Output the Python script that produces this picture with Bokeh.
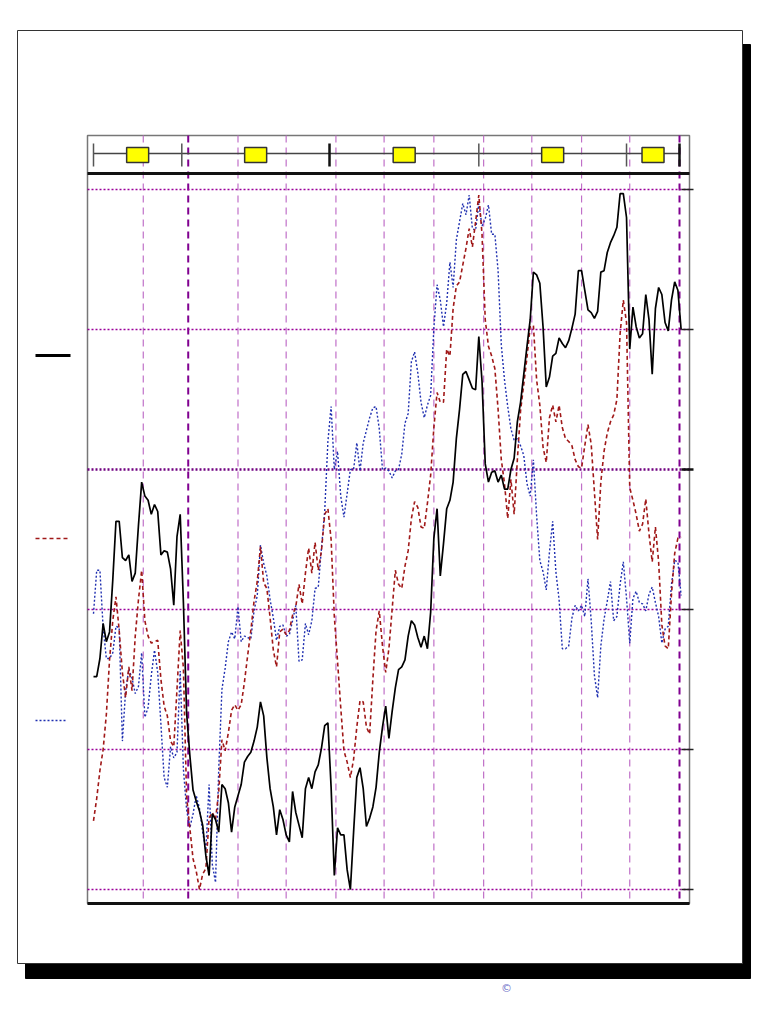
import numpy as np
import pandas as pd
from bokeh.plotting import figure
from bokeh.models import Range1d
from bokeh.embed import file_html
from bokeh.resources import INLINE
from bokeh.core.properties import value

# ---------------- data (one value every 2 days) ----------------
start_date = "2019-01-01"

black_series = [
    1.52, 1.52, 1.65, 1.90, 1.77, 1.84, 2.21, 2.63, 2.63, 2.37,
    2.35, 2.39, 2.20, 2.26, 2.60, 2.91, 2.81, 2.78, 2.68, 2.75,
    2.70, 2.39, 2.42, 2.41, 2.29, 2.03, 2.52, 2.68, 2.05, 1.26,
    0.96, 0.71, 0.63, 0.56, 0.46, 0.24, 0.10, 0.54, 0.50, 0.41,
    0.75, 0.72, 0.62, 0.41, 0.59, 0.67, 0.75, 0.91, 0.95, 0.98,
    1.06, 1.16, 1.34, 1.24, 0.94, 0.72, 0.59, 0.39, 0.57, 0.50,
    0.39, 0.34, 0.70, 0.55, 0.46, 0.37, 0.72, 0.80, 0.72, 0.84,
    0.89, 1.01, 1.17, 1.19, 0.73, 0.10, 0.44, 0.39, 0.39, 0.14,
    0.00, 0.41, 0.80, 0.87, 0.72, 0.45, 0.51, 0.59, 0.73, 0.98,
    1.16, 1.31, 1.08, 1.27, 1.44, 1.57, 1.59, 1.64, 1.81, 1.92,
    1.89, 1.80, 1.73, 1.81, 1.72, 1.98, 2.51, 2.72, 2.24, 2.47,
    2.72, 2.78, 2.91, 3.22, 3.43, 3.68, 3.70, 3.64, 3.58, 3.57,
    3.95, 3.63, 3.04, 2.91, 2.98, 2.99, 2.91, 2.96, 2.86, 2.86,
    3.00, 3.08, 3.34, 3.48, 3.68, 3.88, 4.07, 4.41, 4.39, 4.33,
    4.02, 3.59, 3.66, 3.81, 3.83, 3.94, 3.90, 3.87, 3.92, 4.01,
    4.11, 4.42, 4.42, 4.28, 4.14, 4.12, 4.08, 4.13, 4.41, 4.42,
    4.55, 4.62, 4.67, 4.73, 4.97, 4.97, 4.80, 3.86, 4.16, 4.02,
    3.94, 3.97, 4.25, 4.07, 3.68, 4.15, 4.30, 4.25, 4.05, 3.99,
    4.21, 4.34, 4.28, 4.00,
]

red_series = [
    0.49, 0.65, 0.85, 1.00, 1.25, 1.64, 1.92, 2.09, 1.85, 1.55,
    1.37, 1.59, 1.42, 1.81, 2.07, 2.28, 1.92, 1.81, 1.76, 1.77,
    1.78, 1.50, 1.31, 1.24, 1.06, 1.02, 1.43, 1.85, 1.58, 0.66,
    0.44, 0.22, 0.13, 0.00, 0.11, 0.15, 0.51, 0.55, 0.50, 0.70,
    1.07, 0.99, 1.12, 1.28, 1.32, 1.28, 1.32, 1.48, 1.67, 1.85,
    2.06, 2.20, 2.45, 2.19, 2.15, 1.94, 1.71, 1.59, 1.84, 1.86,
    1.82, 1.85, 1.96, 2.02, 2.18, 2.04, 2.26, 2.44, 2.26, 2.48,
    2.28, 2.42, 2.68, 2.72, 2.50, 1.95, 1.63, 1.30, 0.99, 0.91,
    0.80, 0.93, 1.16, 1.35, 1.34, 1.16, 1.11, 1.50, 1.85, 1.99,
    1.74, 1.55, 1.72, 2.00, 2.28, 2.18, 2.15, 2.31, 2.42, 2.65,
    2.77, 2.73, 2.59, 2.58, 2.76, 2.96, 3.30, 3.55, 3.48, 3.48,
    3.86, 3.81, 4.15, 4.31, 4.34, 4.46, 4.58, 4.72, 4.59, 4.77,
    4.96, 4.68, 4.07, 3.88, 3.81, 3.72, 3.43, 3.07, 2.90, 2.65,
    2.93, 2.68, 3.07, 3.42, 3.61, 3.80, 4.02, 4.03, 3.64, 3.46,
    3.16, 3.05, 3.37, 3.46, 3.34, 3.46, 3.30, 3.22, 3.20, 3.17,
    3.07, 3.02, 3.01, 3.17, 3.32, 3.18, 2.84, 2.50, 2.91, 3.13,
    3.26, 3.34, 3.39, 3.50, 3.97, 4.21, 4.05, 2.87, 2.78, 2.68,
    2.56, 2.61, 2.79, 2.54, 2.34, 2.59, 2.34, 1.89, 1.74, 1.72,
    2.11, 2.40, 2.51, 2.52,
]

blue_series = [
    1.97, 2.28, 2.28, 1.87, 1.65, 1.65, 1.69, 1.88, 1.87, 1.06,
    1.42, 1.57, 1.51, 1.40, 1.45, 1.69, 1.23, 1.30, 1.53, 1.71,
    1.55, 1.18, 0.80, 0.73, 1.02, 0.94, 0.98, 1.56, 0.86, 0.57,
    0.44, 0.54, 0.67, 0.58, 0.41, 0.28, 0.75, 0.18, 0.05, 0.86,
    1.43, 1.58, 1.77, 1.84, 1.79, 2.02, 1.77, 1.81, 1.80, 1.79,
    1.99, 2.10, 2.46, 2.33, 2.24, 2.07, 1.94, 1.78, 1.88, 1.89,
    1.81, 1.82, 1.92, 2.03, 1.63, 1.64, 1.90, 1.82, 1.92, 2.15,
    2.16, 2.44, 2.70, 3.20, 3.45, 3.00, 3.13, 2.81, 2.66, 2.83,
    3.00, 3.00, 3.19, 2.99, 3.19, 3.28, 3.37, 3.44, 3.45, 3.29,
    3.00, 3.01, 2.99, 2.94, 2.99, 3.00, 3.11, 3.33, 3.40, 3.77,
    3.84, 3.69, 3.48, 3.37, 3.46, 3.53, 4.01, 4.32, 4.21, 4.02,
    4.19, 4.48, 4.30, 4.64, 4.77, 4.90, 4.82, 4.96, 4.72, 4.71,
    4.90, 4.74, 4.79, 4.89, 4.68, 4.68, 4.42, 3.89, 3.64, 3.45,
    3.29, 3.21, 3.22, 3.17, 3.10, 2.90, 2.81, 3.07, 2.67, 2.35,
    2.27, 2.14, 2.41, 2.63, 2.27, 2.07, 1.72, 1.72, 1.74, 1.94,
    2.03, 1.99, 2.03, 1.95, 2.22, 1.92, 1.53, 1.37, 1.74, 1.93,
    2.06, 2.20, 1.92, 1.95, 2.18, 2.34, 2.08, 1.76, 2.08, 2.13,
    2.05, 2.04, 1.99, 2.11, 2.16, 2.05, 1.95, 1.76, 1.86, 1.88,
    2.18, 2.35, 2.34, 2.10,
]

grid_levels = [0, 1, 2, 3, 4, 5]
emphasis_level = 3
month_lines = ["2019-02-01", "2019-03-01", "2019-04-01", "2019-05-01", "2019-06-01",
               "2019-07-01", "2019-08-01", "2019-09-01", "2019-10-01", "2019-11-01",
               "2019-12-01", "2020-01-01"]
emphasis_months = ["2019-03-01", "2020-01-01"]
event_dates = ["2019-01-01", "2019-02-25", "2019-05-28", "2019-08-29", "2019-11-29", "2020-01-01"]
major_events = ["2019-05-28", "2020-01-01"]

# ---------------- page geometry (pixels on the page) ----------------
W, H = 752, 1000
ORIGIN = 0
X0_PX, PX_PER_DAY = 93.0, 1.6055      # page x of start_date, pixels per day
Y0_PX, PX_PER_UNIT = 889.0, 140.0     # page y of level 0, pixels per unit
DAY_MS = 86400000.0


def ms(ts):
    return pd.Timestamp(ts).value / 1e6


T0 = ms(start_date)


def px_x(px):
    return T0 + (px - X0_PX) / PX_PER_DAY * DAY_MS


def px_y(py):
    return (Y0_PX - py) / PX_PER_UNIT


FR_L, FR_R, FR_T, FR_B = 87, 689, 135, 903
SEP_Y = 173
TL_Y = 153

p = figure(width=W, height=H,
           x_range=Range1d(px_x(ORIGIN), px_x(ORIGIN + W)),
           y_range=Range1d(px_y(ORIGIN + H), px_y(ORIGIN)),
           output_backend="svg", toolbar_location=None, tools="",
           x_axis_location=None, y_axis_location=None, min_border=0,
           outline_line_color=None, background_fill_color="white",
           border_fill_color="white")
p.grid.visible = False

# page with drop shadow
p.quad(left=[px_x(25)], right=[px_x(750)], top=[px_y(44)], bottom=[px_y(978)],
       fill_color="black", line_color="black")
p.quad(left=[px_x(17)], right=[px_x(742)], top=[px_y(30)], bottom=[px_y(963)],
       fill_color="white", line_color="#333333", line_width=1)

# plot frame
p.quad(left=[px_x(FR_L)], right=[px_x(FR_R)], top=[px_y(FR_T)], bottom=[px_y(FR_B)],
       fill_color="white", line_color="#777777", line_width=1.5)

# vertical month lines
mx = [ms(d) for d in month_lines]
m_norm = [m for d, m in zip(month_lines, mx) if d not in emphasis_months]
m_emph = [m for d, m in zip(month_lines, mx) if d in emphasis_months]
p.segment(x0=m_norm, y0=[px_y(FR_T)] * len(m_norm), x1=m_norm, y1=[px_y(FR_B)] * len(m_norm),
          line_color="#c070c8", line_width=1.2, line_dash="7 5")
p.segment(x0=m_emph, y0=[px_y(FR_T)] * len(m_emph), x1=m_emph, y1=[px_y(FR_B)] * len(m_emph),
          line_color="#800090", line_width=2, line_dash="7 5")

# horizontal dotted grid lines + right tick marks
g_norm = [g for g in grid_levels if g != emphasis_level]
p.segment(x0=[px_x(FR_L)] * len(g_norm), y0=g_norm, x1=[px_x(FR_R)] * len(g_norm), y1=g_norm,
          line_color="#9a009a", line_width=1.5, line_dash="2 2")
p.segment(x0=[px_x(FR_L)], y0=[emphasis_level], x1=[px_x(FR_R)], y1=[emphasis_level],
          line_color="#700080", line_width=2.5, line_dash="2 2")
p.segment(x0=[px_x(681)] * len(g_norm), y0=g_norm, x1=[px_x(693)] * len(g_norm), y1=g_norm,
          line_color="#222222", line_width=1.5)
p.segment(x0=[px_x(681)], y0=[emphasis_level], x1=[px_x(693)], y1=[emphasis_level],
          line_color="#111111", line_width=2.5)

# series
dates = pd.date_range(start_date, periods=len(black_series), freq="2D")
xs = dates.asi8 / 1e6
p.line(xs, blue_series, line_color="#1f2fb0", line_width=1.4, line_dash="2 2")
p.line(xs, red_series, line_color="#a01818", line_width=1.6, line_dash="4 3")
p.line(xs, black_series, line_color="black", line_width=1.7)

# timeline band
ev = [ms(d) for d in event_dates]
p.segment(x0=[ev[0]], y0=[px_y(TL_Y)], x1=[ev[-1]], y1=[px_y(TL_Y)],
          line_color="#444444", line_width=1.5)
ev_minor = [ms(d) for d in event_dates if d not in major_events]
ev_major = [ms(d) for d in major_events]
p.segment(x0=ev_minor, y0=[px_y(143)] * len(ev_minor), x1=ev_minor, y1=[px_y(166)] * len(ev_minor),
          line_color="#555555", line_width=1.5)
p.segment(x0=ev_major, y0=[px_y(143)] * len(ev_major), x1=ev_major, y1=[px_y(166)] * len(ev_major),
          line_color="#111111", line_width=2.5)
mids = [(a + b) / 2 for a, b in zip(ev[:-1], ev[1:])]
half = 11 / PX_PER_DAY * DAY_MS
p.quad(left=[m - half for m in mids], right=[m + half for m in mids],
       top=[px_y(147)] * len(mids), bottom=[px_y(162)] * len(mids),
       fill_color="#ffff00", line_color="#333333", line_width=1.5)

# separator and bottom rules
p.segment(x0=[px_x(FR_L), px_x(FR_L)], y0=[px_y(SEP_Y), px_y(FR_B)],
          x1=[px_x(FR_R), px_x(FR_R)], y1=[px_y(SEP_Y), px_y(FR_B)],
          line_color="#111111", line_width=3)

# legend samples (left)
p.segment(x0=[px_x(35)], y0=[px_y(355)], x1=[px_x(70)], y1=[px_y(355)],
          line_color="black", line_width=3)
p.segment(x0=[px_x(35)], y0=[px_y(538)], x1=[px_x(67)], y1=[px_y(538)],
          line_color="#a01818", line_width=1.6, line_dash="4 3")
p.segment(x0=[px_x(35)], y0=[px_y(720)], x1=[px_x(67)], y1=[px_y(720)],
          line_color="#1f2fb0", line_width=1.6, line_dash="2 2")

# copyright mark
p.text(x=[px_x(506)], y=[px_y(988)], text=["©"], text_font=value("DejaVu Sans"),
       text_font_size="11px", text_color="#7070c8", text_align="center",
       text_baseline="middle")

open("out.html", "w").write(file_html(p, INLINE))
